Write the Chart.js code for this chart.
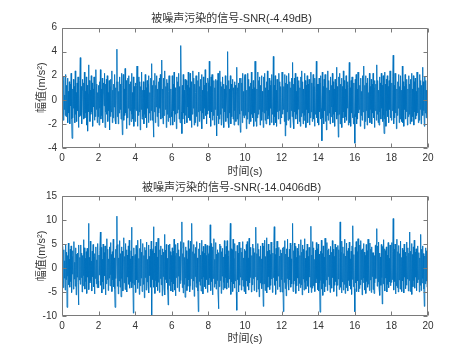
<!DOCTYPE html>
<html>
<head>
<meta charset="utf-8">
<script src="https://cdn.jsdelivr.net/npm/chart.js@4/dist/chart.umd.min.js"></script>
<style>
html,body{margin:0;padding:0;background:#fff;width:474px;height:355px;overflow:hidden;}
#c1{position:absolute;left:0;top:0;}
#c2{position:absolute;left:0;top:170px;}
</style>
</head>
<body>
<canvas id="c1" width="474" height="179"></canvas>
<canvas id="c2" width="474" height="176"></canvas>
<script>
// recording length (s); samples below are evenly spaced over it
const duration = 20;

const topTitle = '被噪声污染的信号-SNR(-4.49dB)';
const bottomTitle = '被噪声污染的信号-SNR(-14.0406dB)';
const xTitle = '时间(s)';
const yTitle = '幅值(m/s²)';

const xTickValues = [0,2,4,6,8,10,12,14,16,18,20];
const topTicksY = [-4,-2,0,2,4,6];
const bottomTicksY = [-10,-5,0,5,10,15];

// signal 1 (SNR -4.49 dB), one row per second
const topSignal = [
 1.6,-1.2,0.9,-1.7,1.9,-0.8,0.4,-1.3,2.1,-1.4,1.2,-0.6,1.8,-1.9,0.7,-1.1,1.5,-2.0,1.3,-0.5,2.2,-1.6,-3.2,0.9,-1.5,1.7,-0.7,1.1,-1.9,2.4,-1.2,0.6,-1.8,1.4,-0.9,1.9,-2.3,1.0,-1.4,1.6,
 3.5,-1.3,1.1,-2.0,0.8,1.7,-0.9,1.4,-1.6,2.3,-1.5,0.7,-1.1,1.9,-2.1,1.2,-2.6,0.5,2.9,-1.0,1.6,-1.8,0.8,-1.2,2.0,-1.0,1.4,-2.2,0.9,-0.6,1.9,-1.7,1.1,-1.4,2.5,-0.8,1.3,-1.9,0.6,-1.4,
 1.2,-2.1,1.5,-0.7,2.5,-1.6,0.9,-1.3,1.8,-1.9,0.5,1.4,-0.5,2.2,-2.3,1.3,-1.0,1.7,-1.2,2.0,-1.8,0.6,-0.9,1.6,-2.5,1.1,-1.4,1.7,-1.0,2.4,-1.9,0.8,-1.5,1.3,-0.6,2.1,-1.7,1.0,-2.0,1.5,
 4.2,-1.4,1.5,-2.0,0.7,-1.1,1.9,-0.8,1.3,-1.6,2.2,-0.9,-2.9,1.2,2.1,-1.7,0.9,-1.3,2.6,-1.1,1.6,-2.4,0.9,-1.5,1.8,-0.7,2.0,-2.1,1.3,-0.9,1.5,-1.8,2.2,-1.2,0.6,-1.6,1.9,-2.2,1.1,-0.8,
 -1.8,1.4,-0.9,1.2,2.8,-2.2,0.7,-1.3,1.9,-1.0,1.5,-2.5,1.1,-0.8,2.3,-1.6,0.8,-1.4,1.5,-2.0,0.8,-1.2,2.1,-1.5,1.0,-2.3,1.6,-0.7,1.3,-1.9,2.0,-1.1,0.6,-1.7,1.8,-0.9,3.0,-1.7,1.2,-1.4,
 -3.1,1.6,-1.0,2.2,-1.9,1.2,-0.6,2.0,-1.4,0.9,-2.2,1.5,-1.1,1.8,-0.7,2.1,-1.6,0.8,3.3,-1.5,0.9,-2.0,1.8,-1.3,0.5,2.4,-0.8,1.1,-2.3,1.7,-1.2,1.4,-1.8,0.7,2.0,-1.5,1.2,-2.1,0.9,-1.0,
 -1.4,2.0,-2.1,1.3,-0.9,2.3,-1.8,1.0,-1.2,0.7,-2.4,1.9,-1.1,1.5,-0.8,2.2,-1.6,1.1,-1.9,1.4,4.5,-1.0,-2.8,1.2,-1.6,2.1,-1.1,0.8,-2.0,1.7,-1.3,0.9,1.6,-1.9,1.2,-0.6,2.3,-1.5,1.0,-1.7,
 2.2,-1.7,1.5,-2.3,1.0,-1.2,2.4,-0.7,1.8,-2.1,1.3,-1.9,0.6,2.0,-1.4,0.9,-2.2,1.6,-1.0,2.3,-1.8,1.1,-0.9,1.7,-1.5,2.1,-2.4,0.8,-1.1,1.9,-1.6,1.2,-0.7,2.5,-1.3,1.4,-2.0,0.7,-1.2,1.8,
 1.4,-0.9,3.2,-1.5,1.1,-2.2,1.9,-1.0,2.1,-1.7,0.6,-1.3,1.6,-2.1,1.0,-0.8,1.7,-1.4,-3.0,1.6,-1.3,2.2,-2.0,0.8,-1.6,2.4,-1.2,1.5,-2.1,1.1,-0.7,1.9,-1.5,1.3,-2.3,0.9,-1.0,2.0,-1.8,1.2,
 1.2,-1.5,4.0,-1.8,1.6,-2.3,0.9,-1.1,2.0,-2.0,1.3,-1.4,0.8,1.7,-1.6,1.0,-2.1,1.5,-0.9,1.2,-1.8,0.6,2.7,-1.6,1.0,-2.1,1.4,-0.7,1.8,-1.2,-2.7,1.8,-0.9,1.4,-1.9,2.2,-1.3,0.7,-1.5,1.9,
 2.1,-1.3,1.5,-2.4,0.8,-1.6,2.2,-1.0,1.7,-2.0,1.1,-0.6,1.4,-1.8,2.3,-1.2,0.9,-1.5,1.6,-2.2,1.0,-1.1,3.2,-1.8,1.4,-2.2,0.9,-1.5,2.3,-1.2,1.6,-0.8,1.9,-2.1,1.2,-1.4,2.0,-1.7,0.7,-1.0,
 -2.3,1.9,-1.1,2.2,-1.7,1.0,-2.0,1.5,-0.9,2.4,-1.6,0.8,-1.3,1.8,-2.1,1.2,-0.7,1.6,-1.9,2.1,-1.2,0.9,3.6,-2.1,1.2,-1.4,2.0,-1.9,0.8,-2.2,1.7,-1.0,1.3,-1.6,2.2,-0.9,1.5,-2.0,1.1,-1.4,
 -1.5,2.3,-1.2,1.6,-0.8,1.1,-1.8,2.1,-3.0,1.4,-2.1,2.0,-1.0,1.3,-1.7,0.9,2.2,-1.6,1.5,-2.3,1.0,-0.9,1.8,-1.4,3.1,-1.7,1.3,-2.4,1.8,-1.0,2.2,-1.6,0.7,-1.2,1.9,-2.0,1.2,-0.8,1.6,-1.8,
 1.0,-2.2,1.9,-1.4,2.4,-1.1,1.5,-2.0,0.9,-1.7,2.2,-1.3,1.6,-2.3,1.2,-0.8,2.0,-1.9,1.3,-1.1,1.7,-2.1,0.8,-1.5,2.3,-1.0,1.4,-1.8,0.9,2.1,-1.6,1.1,-2.2,1.8,-1.2,0.7,3.2,-1.5,1.3,-1.9,
 1.3,-2.1,1.8,-1.0,1.4,-1.6,2.0,-0.7,-3.4,2.3,-1.5,1.1,-2.0,1.7,-0.9,2.1,-1.8,1.4,-2.5,1.0,-1.3,2.4,-1.7,1.6,-1.1,0.8,-2.0,1.9,-1.4,1.2,-0.6,2.2,-1.9,1.5,-1.2,0.9,-2.2,1.7,-1.0,1.4,
 2.7,-1.6,1.1,-1.3,-3.1,1.9,-1.2,2.2,-2.0,1.3,-0.8,1.8,-2.3,1.1,-1.5,2.4,-1.0,1.6,-1.9,0.9,-1.4,2.0,-1.7,1.2,-0.7,1.5,-2.1,1.0,3.1,-1.9,1.0,-2.2,1.6,-1.1,1.9,-1.5,0.8,-2.0,1.4,-1.2,
 -3.6,1.7,-1.4,2.1,-2.0,0.9,-1.6,2.3,-1.1,1.5,-0.8,1.2,-2.2,1.8,-1.3,0.7,-1.7,2.0,-1.0,1.4,2.8,-2.4,1.2,-1.8,2.0,-0.9,1.4,-2.1,1.8,-1.3,0.6,-1.5,2.2,-1.9,1.1,-0.8,1.7,-2.0,1.3,-1.1,
 2.2,-1.5,1.0,-2.3,1.6,-0.9,1.3,-1.7,2.9,-1.2,1.6,-1.9,0.8,-2.1,1.9,-1.0,1.4,-1.6,2.2,-0.7,1.2,-1.8,2.0,-1.3,-2.8,2.3,-1.6,1.3,-2.2,1.7,-0.9,2.0,-1.4,1.1,-1.9,1.6,-0.8,2.4,-1.5,1.0,
 -1.7,1.4,-0.9,1.9,3.7,-2.0,1.2,-1.5,2.2,-1.1,1.8,-2.4,0.9,-1.3,1.5,-0.7,2.1,-1.9,1.1,-1.6,2.0,-1.2,0.8,-1.8,2.8,-1.9,1.5,-2.2,1.1,-0.8,2.1,-1.6,1.3,-1.0,1.7,-2.1,0.9,-1.4,2.0,-1.2,
 1.3,-2.0,1.7,-1.2,2.2,-1.8,0.9,-1.4,2.0,-2.1,1.5,-1.0,1.8,-1.6,0.7,-1.3,2.3,-1.1,1.4,-1.9,1.0,-1.7,2.1,-0.8,1.6,-2.0,1.2,-1.1,2.7,-1.3,1.5,-0.9,-2.2,1.9,-1.1,1.6,-1.5,0.8,-1.2,1.4,
 -0.8
];

// signal 2 (SNR -14.0406 dB), one row per second
const bottomSignal = [
 4.5,-3.2,2.1,-4.1,3.8,-2.1,1.5,-4.6,5.0,-2.4,3.3,-8.2,2.6,-1.7,5.2,-3.5,1.8,-4.0,3.9,-2.8,4.6,-5.1,2.4,-1.3,3.6,-4.4,5.5,-2.3,1.2,-3.8,4.2,-5.6,2.9,-1.9,3.1,-3.0,-7.7,4.8,-2.5,2.2,
 -3.4,4.8,-2.0,3.1,-5.0,2.6,-3.7,5.9,-1.6,4.2,-4.4,2.0,-2.8,3.4,-5.3,4.1,-1.9,3.8,9.3,-4.5,2.2,-3.1,5.6,-2.6,1.4,-4.8,3.5,-1.8,4.9,-3.9,2.3,-5.4,3.0,-2.2,4.4,-3.3,1.7,-4.1,5.1,-2.7,
 -4.1,2.7,-1.5,3.6,7.5,-3.6,4.3,-5.2,1.8,-2.9,5.0,-4.4,3.2,-1.6,4.6,-5.6,2.5,-3.3,6.1,-2.4,3.9,-4.7,1.9,-2.1,4.4,-3.7,5.3,-1.4,2.8,-4.9,3.4,-2.5,6.0,-3.9,2.1,-4.3,-8.2,3.9,-2.2,4.6,
 10.8,-3.8,4.9,-5.4,2.1,-2.7,5.7,-4.0,3.0,-6.0,4.4,-2.2,3.5,-4.8,1.6,6.3,-3.1,2.4,-4.5,5.1,-2.6,3.8,-5.0,2.7,-1.9,4.6,-3.4,5.8,-4.2,1.9,-2.8,3.6,8.5,-4.1,2.5,-3.2,-9.4,4.2,-3.5,2.3,
 2.8,-5.1,4.7,-2.5,3.9,-4.3,5.8,-3.0,2.0,-5.5,4.1,-3.7,6.0,-2.1,3.3,-4.9,1.7,5.1,-3.4,2.6,-6.2,4.3,-2.0,3.7,-4.6,5.4,-2.9,1.8,-3.9,4.8,-5.2,2.4,-1.6,3.9,-4.0,5.6,-9.8,3.6,-2.4,4.0,
 8.6,-4.0,3.1,-5.3,4.5,-2.6,5.4,-3.9,2.3,-4.7,6.2,-3.0,1.9,-5.1,3.8,-2.2,4.6,-3.5,2.7,-5.8,4.0,-1.8,3.3,-4.2,7.0,-5.6,3.7,-2.4,4.9,-3.1,2.0,-4.5,-7.7,4.8,-3.6,5.0,-2.3,3.4,-4.8,2.6,
 -2.9,4.2,-5.0,3.5,-3.3,6.0,-4.6,2.6,-5.8,4.9,-2.0,3.1,-4.1,5.2,-1.7,3.8,-4.9,2.4,-3.2,5.5,-2.6,4.1,9.6,-4.1,3.0,-5.2,5.3,-3.4,2.2,-6.1,4.4,-2.1,3.6,-4.7,1.9,-3.8,5.7,-2.5,4.0,-5.0,
 -3.7,5.6,-2.2,3.9,9.3,-4.5,3.4,-2.7,4.9,-5.9,3.0,-1.8,4.3,-4.0,5.5,-3.2,2.1,-4.8,-9.1,4.0,-2.8,5.2,-3.6,2.7,-4.8,5.8,-2.3,3.4,-5.4,4.5,-1.9,3.1,-3.9,5.0,-4.3,2.6,-2.4,4.7,-5.1,3.3,
 2.9,-3.5,4.6,-2.1,9.0,-4.7,5.1,-2.8,3.7,-5.6,4.4,-2.2,6.1,-4.0,1.8,-3.3,5.3,-4.4,2.9,-2.6,3.8,-5.2,-8.5,3.2,-3.9,5.0,-2.6,4.6,-5.3,3.4,-1.7,4.1,-4.5,2.3,-3.0,5.7,-4.2,2.8,-2.0,4.5,
 -4.4,5.7,-3.0,2.5,-4.1,3.6,-2.3,4.8,9.3,-5.5,4.0,-2.9,3.8,-4.9,6.0,-3.3,2.0,-4.2,5.1,-2.7,3.5,-5.0,-8.8,4.7,-2.4,3.1,-5.0,5.4,-3.6,2.8,-1.9,4.2,-4.6,3.3,-2.5,5.5,-3.8,2.1,-4.9,3.9,
 -4.2,3.6,-5.4,4.9,-2.7,5.5,-3.8,2.1,-4.6,6.2,-3.1,4.3,-2.0,3.4,-5.0,2.6,-3.5,5.0,-2.2,4.1,-4.7,3.2,-1.8,5.6,8.5,-5.0,3.0,-2.5,5.1,-4.4,3.9,-6.0,2.4,-3.1,4.6,-2.8,1.9,-4.3,5.2,-3.4,
 -8.0,4.6,-3.3,5.8,-4.7,2.4,-2.9,6.3,-5.2,3.5,-4.0,5.0,-1.8,3.7,-4.5,2.8,-3.6,5.4,-2.3,4.0,-5.1,3.1,-2.0,4.7,8.6,-3.6,2.8,-5.5,4.1,-2.6,5.6,-4.5,3.0,-1.7,4.3,-3.9,2.5,-5.0,3.8,-2.4,
 3.1,-5.0,4.2,-2.0,-9.1,4.4,-3.0,5.7,-4.3,2.9,-5.8,4.0,-2.2,6.0,-3.1,2.3,-4.6,3.9,-2.5,5.2,-4.0,1.9,-3.3,4.8,9.3,-4.9,3.6,-3.4,5.2,-2.7,4.5,-5.3,2.2,-3.7,4.1,-2.1,3.5,-4.8,5.0,-3.2,
 2.6,-4.1,5.9,-3.5,3.3,-5.6,4.8,-2.3,3.9,-4.6,6.1,-3.0,2.0,-4.4,3.6,-2.6,5.0,-3.8,2.4,-5.2,4.3,-1.9,3.0,-4.0,8.7,-5.1,2.7,-4.2,5.5,-3.7,4.2,-2.8,1.8,-4.9,3.7,-3.1,5.3,-2.2,4.0,-4.5,
 5.0,-4.8,2.9,-3.1,-9.2,3.5,-2.6,5.8,-4.4,3.0,-5.7,4.6,-3.2,2.3,-5.0,6.2,-3.9,4.1,-2.5,5.3,-4.7,3.7,-1.8,4.0,-3.5,2.7,-5.1,4.5,-2.9,3.3,-4.2,5.7,-2.0,3.9,-4.9,2.4,-3.6,5.0,-2.8,4.3,
 -5.9,2.8,-3.6,4.7,-2.3,3.8,-4.5,2.1,9.6,-4.0,3.3,-5.2,5.6,-2.9,4.4,-4.6,3.0,-3.4,6.0,-5.3,2.5,-4.1,5.2,-2.0,3.6,-4.8,4.1,-2.6,5.4,-3.7,1.9,-4.4,3.5,-5.5,4.6,-2.4,8.8,-3.9,2.8,-4.3,
 -9.1,4.3,-3.1,5.5,-4.9,3.4,-2.7,6.1,-5.0,2.9,-4.3,4.8,-3.5,5.7,-2.4,3.8,-5.6,4.0,-3.0,5.1,-2.1,3.3,-4.6,2.6,-5.3,4.9,-2.8,3.6,-4.0,6.0,-3.4,2.2,-4.7,5.2,-2.5,3.9,-5.1,4.4,-1.8,3.2,
 -4.5,3.2,-5.3,2.6,-3.1,4.7,-2.2,5.0,8.2,-3.8,4.6,-2.9,5.4,-4.2,3.1,-5.7,2.3,-3.6,4.9,-2.0,-7.5,4.5,-3.3,5.9,-2.6,4.0,-4.8,3.6,-2.1,4.4,-5.0,2.7,-3.4,5.3,-4.1,2.0,-2.9,4.8,-3.7,3.0,
 -3.0,5.3,-2.4,3.5,10.3,-4.6,3.9,-2.8,5.0,-5.4,2.7,-3.7,6.0,-4.1,3.4,-5.0,4.7,-2.5,3.0,-4.4,5.6,-3.2,2.2,-4.9,4.1,-2.7,3.7,-5.2,5.0,-1.9,3.3,-4.3,2.5,-3.6,5.4,-2.3,4.2,-4.8,3.1,-2.6,
 7.5,-4.9,3.5,-3.0,5.1,-5.5,2.8,-3.9,4.4,-2.6,5.8,-4.2,3.3,-1.9,4.0,-4.7,3.9,-3.1,4.6,-2.4,3.2,-5.0,2.1,-3.6,7.0,-4.7,3.9,-3.1,4.6,-2.2,3.0,-4.4,-8.0,2.5,-3.3,4.2,-2.7,3.6,-4.0,2.9,
 -3.5
];

const FONT = "'Liberation Sans', 'Noto Sans CJK SC', Arial, sans-serif";
const TXT = '#333333';
const AXC = '#7a7a7a';

const boxTicks = {
  id: 'boxTicks',
  afterDraw(chart) {
    const { ctx, chartArea: a, scales: { x, y } } = chart;
    const L = Math.round(a.left) + 0.5, R = Math.round(a.right) - 0.5;
    const T = Math.round(a.top) + 0.5, B = Math.round(a.bottom) - 0.5;
    ctx.save();
    ctx.strokeStyle = AXC;
    ctx.lineWidth = 1;
    ctx.beginPath();
    ctx.rect(L, T, R - L, B - T);
    x.ticks.forEach(t => {
      const p = Math.round(x.getPixelForValue(t.value)) + 0.5;
      ctx.moveTo(p, B); ctx.lineTo(p, B - 4);
      ctx.moveTo(p, T); ctx.lineTo(p, T + 4);
    });
    y.ticks.forEach(t => {
      const p = Math.round(y.getPixelForValue(t.value)) + 0.5;
      ctx.moveTo(L, p); ctx.lineTo(L + 4, p);
      ctx.moveTo(R, p); ctx.lineTo(R - 4, p);
    });
    ctx.stroke();
    ctx.restore();
  }
};

function makeChart(id, values, title, yTicks, titlePad, xHeight) {
  const step = duration / (values.length - 1);
  const pts = values.map((v, i) => ({ x: i * step, y: v }));
  return new Chart(document.getElementById(id), {
    type: 'line',
    data: { datasets: [{
      data: pts,
      borderColor: '#0072BD',
      borderWidth: 0.9,
      pointRadius: 0,
      tension: 0,
      fill: false
    }]},
    options: {
      responsive: false,
      animation: false,
      events: [],
      layout: { padding: { left: 35, right: 46, top: 0, bottom: 0 } },
      plugins: {
        legend: { display: false },
        tooltip: { enabled: false },
        title: {
          display: true, text: title, color: TXT,
          font: { family: FONT, size: 11, weight: 'normal', lineHeight: 1.2 },
          padding: titlePad
        }
      },
      scales: {
        x: {
          type: 'linear',
          min: xTickValues[0], max: xTickValues[xTickValues.length - 1],
          afterBuildTicks(s) { s.ticks = xTickValues.map(v => ({ value: v })); },
          afterFit(s) { s.height = xHeight; },
          grid: { display: false, drawTicks: false },
          border: { display: false },
          ticks: { color: TXT, font: { family: FONT, size: 10 }, padding: 4, maxRotation: 0 },
          title: { display: true, text: xTitle, color: TXT, padding: 0,
                   font: { family: FONT, size: 11, lineHeight: 1.2 } }
        },
        y: {
          min: yTicks[0], max: yTicks[yTicks.length - 1],
          afterBuildTicks(s) { s.ticks = yTicks.map(v => ({ value: v })); },
          afterFit(s) { s.width = 27; },
          grid: { display: false, drawTicks: false },
          border: { display: false },
          ticks: { color: TXT, font: { family: FONT, size: 10 }, padding: 5 },
          title: { display: true, text: yTitle, color: TXT, padding: 0,
                   font: { family: FONT, size: 11, lineHeight: 1.2 } }
        }
      }
    },
    plugins: [boxTicks]
  });
}

makeChart('c1', topSignal, topTitle, topTicksY, { top: 12, bottom: 2.3 }, 31);
makeChart('c2', bottomSignal, bottomTitle, bottomTicksY, { top: 10.9, bottom: 1.9 }, 30);
</script>
</body>
</html>
